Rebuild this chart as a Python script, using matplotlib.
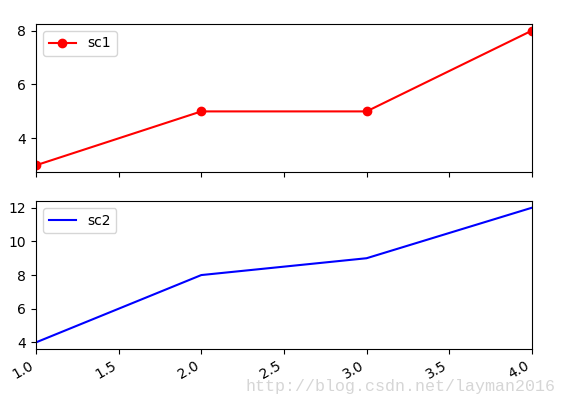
import matplotlib.pyplot as plt

x = [1, 2, 3, 4]
sc1 = [3, 5, 5, 8]
sc2 = [4, 8, 9, 12]

fig, (ax1, ax2) = plt.subplots(nrows=2, sharex=True, figsize=(5.67, 4.05), dpi=100)
plt.subplots_adjust(left=0.0635, right=0.938, top=0.941, bottom=0.138, hspace=0.196)

ax1.plot(x, sc1, color='red', marker='o', label='sc1')
ax2.plot(x, sc2, color='blue', label='sc2')
ax1.legend(loc='upper left')
ax2.legend(loc='upper left')
ax2.set_xlim(1, 4)
ax1.set_yticks([4, 6, 8])
ax2.set_yticks([4, 6, 8, 10, 12])
for lab in ax2.get_xticklabels():
    lab.set_rotation(30)
    lab.set_ha('right')

# watermark
fig.text(0.979, 0.035, 'http://blog.csdn.net/layman2016', ha='right', va='baseline',
         color='#d6d6d6', fontsize=12, family='Liberation Mono')

plt.savefig('out.png')
